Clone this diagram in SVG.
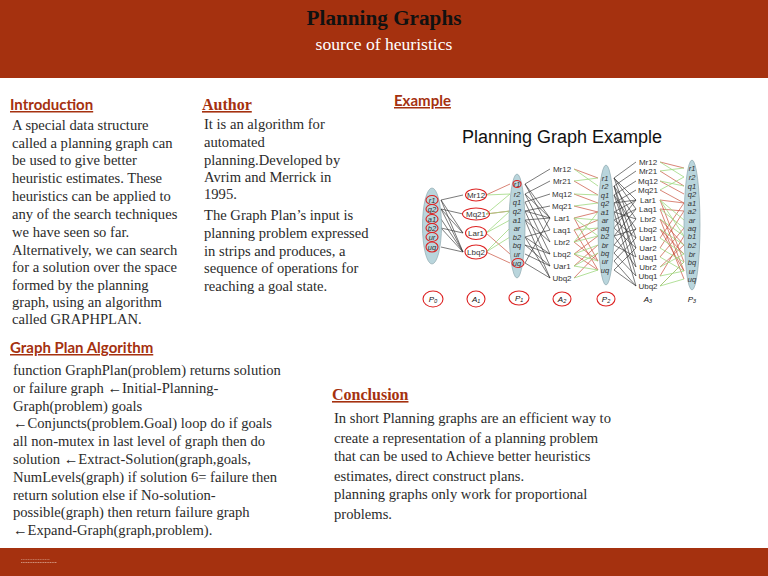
<svg xmlns="http://www.w3.org/2000/svg" width="768" height="576" viewBox="0 0 768 576">
<style>
.band{fill:#a5310f}
.b{font-family:"Liberation Serif",serif;font-size:14.6px;fill:#2b2b2b}
.h{font-family:Lato,"Open Sans",sans-serif;font-weight:700;font-size:15px;fill:#a5310f;text-decoration:underline}
.hs{font-family:"Liberation Serif",serif;font-weight:700;font-size:16px;fill:#a5310f;text-decoration:underline}
.a{font-family:"Liberation Sans",sans-serif;font-size:8px;fill:#333;text-anchor:middle}
.p{font-family:"Liberation Sans",sans-serif;font-size:7.5px;font-style:italic;fill:#333;text-anchor:middle}
.l{font-family:"Liberation Sans",sans-serif;font-size:8px;font-style:italic;fill:#111;text-anchor:middle}
.o{fill:#b9d5dc;stroke:#8fa9b0;stroke-width:.7}
.c{fill:none;stroke:#dd2222;stroke-width:1.1}
.k{fill:none;stroke:#333;stroke-width:.65}
.r{fill:none;stroke:#c9503c;stroke-width:.7}
.g{fill:none;stroke:#9fd880;stroke-width:.8}
</style>
<rect class="band" width="768" height="78"/>
<rect class="band" y="548" width="768" height="28"/>
<g id="title">
<text x="384" y="25" text-anchor="middle" font-family="Liberation Serif,serif" font-weight="700" font-size="21.2" fill="#111">Planning Graphs</text>
<text x="384" y="50" text-anchor="middle" font-family="Liberation Serif,serif" font-size="17.6" fill="#fff">source of heuristics</text>
</g>
<g id="footer" stroke="#e8c8b8" stroke-width=".7" stroke-dasharray="1.2 .5">
<line x1="21" y1="559.5" x2="50" y2="559.5" opacity=".6"/>
<line x1="21" y1="562.5" x2="57" y2="562.5" opacity=".9"/>
</g>
<g id="introduction">
<text class="h" x="10" y="110">Introduction</text>
<text class="b" x="12" y="130">A special data structure</text>
<text class="b" x="12" y="148">called a planning graph can</text>
<text class="b" x="12" y="165">be used to give better</text>
<text class="b" x="12" y="183">heuristic estimates. These</text>
<text class="b" x="12" y="201">heuristics can be applied to</text>
<text class="b" x="12" y="219">any of the search techniques</text>
<text class="b" x="12" y="237">we have seen so far.</text>
<text class="b" x="12" y="255">Alternatively, we can search</text>
<text class="b" x="12" y="272">for a solution over the space</text>
<text class="b" x="12" y="290">formed by the planning</text>
<text class="b" x="12" y="307">graph, using an algorithm</text>
<text class="b" x="12" y="324">called GRAPHPLAN.</text>
</g>
<g id="author">
<text class="hs" x="202" y="110">Author</text>
<text class="b" x="204" y="129">It is an algorithm for</text>
<text class="b" x="204" y="147">automated</text>
<text class="b" x="204" y="165">planning.Developed by</text>
<text class="b" x="204" y="182">Avrim and Merrick  in</text>
<text class="b" x="204" y="199">1995.</text>
<text class="b" x="204" y="220">The Graph Plan’s input is</text>
<text class="b" x="204" y="238">planning problem expressed</text>
<text class="b" x="204" y="256">in strips and produces, a</text>
<text class="b" x="204" y="273">sequence of operations for</text>
<text class="b" x="204" y="291">reaching a goal state.</text>
</g>
<g id="algorithm">
<text class="h" x="10" y="353">Graph Plan Algorithm</text>
<text class="b" x="13" y="375">function GraphPlan(problem) returns solution</text>
<text class="b" x="13" y="393">or failure graph ←Initial-Planning-</text>
<text class="b" x="13" y="411">Graph(problem) goals</text>
<text class="b" x="13" y="428">←Conjuncts(problem.Goal) loop do if goals</text>
<text class="b" x="13" y="446">all non-mutex in last level of graph then do</text>
<text class="b" x="13" y="464">solution ←Extract-Solution(graph,goals,</text>
<text class="b" x="13" y="482">NumLevels(graph) if solution 6= failure then</text>
<text class="b" x="13" y="500">return solution else if No-solution-</text>
<text class="b" x="13" y="517">possible(graph) then return failure graph</text>
<text class="b" x="13" y="535">←Expand-Graph(graph,problem).</text>
</g>
<g id="conclusion">
<text class="hs" x="332" y="400">Conclusion</text>
<text class="b" x="334" y="423">In short Planning graphs are an efficient way to</text>
<text class="b" x="334" y="443">create a representation of a planning problem</text>
<text class="b" x="334" y="461">that can be used to Achieve better heuristics</text>
<text class="b" x="334" y="481">estimates, direct construct plans.</text>
<text class="b" x="334" y="499">planning graphs only work for proportional</text>
<text class="b" x="334" y="519">problems.</text>
</g>
<text class="h" x="394" y="106">Example</text>
<text x="562" y="143" text-anchor="middle" font-family="Liberation Sans,sans-serif" font-size="18" fill="#111">Planning Graph Example</text>
<g id="connectors">
<path class="k" d="M441 200L463 195M441 200L463 233M441 200L463 252M441 209L463 214M441 209L463 233M441 209L463 252M441 219L463 252M441 228L463 233M441 228L463 252M441 247L463 252"/>
<path class="r" d="M486 195L510 184M486 214L510 211M486 233L510 254M486 252L510 263"/>
<path class="g" d="M486 195L510 194M486 214L510 211M486 214L510 194M486 233L510 220M486 233L510 211M486 252L510 237M486 252L510 228"/>
<path class="k" d="M525 184L550 169M525 184L550 218M525 184L550 230M525 194L550 181M525 194L550 242M525 194L550 218M525 202L550 194M525 202L550 254M525 211L550 206M525 211L550 218M525 211L550 266M525 220L550 218M525 220L550 242M525 220L550 278M525 237L550 230M525 237L550 254M525 237L550 278M525 245L550 266M525 245L550 254M525 254L550 266M525 263L550 278M525 263L550 218"/>
<path class="r" d="M574 169L598 178M574 181L598 195M574 194L598 203M574 206L598 212M574 218L598 212M574 218L598 261M574 230L598 220M574 230L598 270M574 242L598 228M574 242L598 261M574 254L598 236M574 254L598 270M574 266L598 245M574 278L598 253"/>
<path class="g" d="M574 169L598 186M574 181L598 178M574 194L598 195M574 206L598 203M574 218L598 220M574 218L598 236M574 230L598 228M574 242L598 236M574 242L598 212M574 254L598 245M574 254L598 261M574 266L598 253M574 266L598 270M574 278L598 270"/>
<path class="k" d="M614 178L636 162M614 178L636 200M614 178L636 209M614 178L636 238M614 186L636 171M614 186L636 219M614 186L636 248M614 186L636 267M614 195L636 181M614 195L636 229M614 195L636 257M614 203L636 190M614 203L636 200M614 203L636 276M614 212L636 200M614 212L636 219M614 212L636 286M614 220L636 209M614 220L636 238M614 228L636 200M614 228L636 248M614 236L636 209M614 236L636 229M614 236L636 267M614 245L636 219M614 245L636 257M614 253L636 229M614 253L636 276M614 261L636 238M614 261L636 286M614 270L636 248M614 270L636 286"/>
<path class="r" d="M660 162L684 168M660 171L684 186M660 181L684 194M660 190L684 203M660 200L684 203M660 200L684 262M660 209L684 211M660 209L684 271M660 219L684 245M660 219L684 279M660 229L684 254M660 229L684 271M660 238L684 203M660 248L684 211M660 257L684 228M660 267L684 245M660 276L684 236M660 286L684 262"/>
<path class="g" d="M660 162L684 177M660 171L684 168M660 181L684 186M660 190L684 177M660 200L684 220M660 200L684 236M660 209L684 228M660 219L684 236M660 229L684 245M660 238L684 254M660 248L684 262M660 257L684 271M660 267L684 254M660 276L684 271M660 286L684 279M660 286L684 262"/>
</g>
<g id="P0"><ellipse class="o" cx="432" cy="226" rx="9.5" ry="38"/>
<text class="p" x="432" y="203">r1</text><text class="p" x="432" y="212">q2</text><text class="p" x="432" y="222">a1</text><text class="p" x="432" y="231">b2</text><text class="p" x="432" y="240">ur</text><text class="p" x="432" y="250">uq</text>
<ellipse class="c" cx="432" cy="200" rx="6" ry="4.5"/><ellipse class="c" cx="432" cy="209" rx="6" ry="4.5"/><ellipse class="c" cx="432" cy="219" rx="6" ry="4.5"/><ellipse class="c" cx="432" cy="228" rx="6" ry="4.5"/><ellipse class="c" cx="432" cy="237" rx="6" ry="4.5"/><ellipse class="c" cx="432" cy="247" rx="6" ry="5"/></g>
<g id="A1">
<ellipse class="c" cx="476" cy="195" rx="10.5" ry="6"/><text class="a" x="476" y="198">Mr12</text>
<ellipse class="c" cx="476" cy="214" rx="13.5" ry="6"/><text class="a" x="476" y="217">Mq21</text>
<ellipse class="c" cx="476" cy="233" rx="10.5" ry="6.5"/><text class="a" x="476" y="236">Lar1</text>
<ellipse class="c" cx="476" cy="252" rx="11" ry="7"/><text class="a" x="476" y="255">Lbq2</text>
</g>
<g id="P1"><ellipse class="o" cx="517" cy="226" rx="8" ry="52"/>
<text class="p" x="517" y="187">r1</text><text class="p" x="517" y="197">r2</text><text class="p" x="517" y="205">q1</text><text class="p" x="517" y="214">q2</text><text class="p" x="517" y="223">a1</text><text class="p" x="517" y="231">ar</text><text class="p" x="517" y="240">b2</text><text class="p" x="517" y="248">bq</text><text class="p" x="517" y="257">ur</text><text class="p" x="517" y="266">uq</text>
<ellipse class="c" cx="517" cy="184" rx="4" ry="3.5"/><ellipse class="c" cx="518" cy="263" rx="6" ry="4.5"/></g>
<g id="A2">
<text class="a" x="562" y="172">Mr12</text><text class="a" x="562" y="184">Mr21</text><text class="a" x="562" y="197">Mq12</text><text class="a" x="562" y="209">Mq21</text><text class="a" x="562" y="221">Lar1</text><text class="a" x="562" y="233">Laq1</text><text class="a" x="562" y="245">Lbr2</text><text class="a" x="562" y="257">Lbq2</text><text class="a" x="562" y="269">Uar1</text><text class="a" x="562" y="281">Ubq2</text>
</g>
<g id="P2"><ellipse class="o" cx="606" cy="225" rx="8" ry="60"/>
<text class="p" x="605" y="181">r1</text><text class="p" x="605" y="189">r2</text><text class="p" x="605" y="198">q1</text><text class="p" x="605" y="206">q2</text><text class="p" x="605" y="215">a1</text><text class="p" x="605" y="223">ar</text><text class="p" x="605" y="231">aq</text><text class="p" x="605" y="239">b2</text><text class="p" x="605" y="248">br</text><text class="p" x="605" y="256">bq</text><text class="p" x="605" y="264">ur</text><text class="p" x="605" y="273">uq</text>
</g>
<g id="A3">
<text class="a" x="648" y="165">Mr12</text><text class="a" x="648" y="174">Mr21</text><text class="a" x="648" y="184">Mq12</text><text class="a" x="648" y="193">Mq21</text><text class="a" x="648" y="203">Lar1</text><text class="a" x="648" y="212">Laq1</text><text class="a" x="648" y="222">Lbr2</text><text class="a" x="648" y="232">Lbq2</text><text class="a" x="648" y="241">Uar1</text><text class="a" x="648" y="251">Uar2</text><text class="a" x="648" y="260">Uaq1</text><text class="a" x="648" y="270">Ubr2</text><text class="a" x="648" y="279">Ubq1</text><text class="a" x="648" y="289">Ubq2</text>
</g>
<g id="P3"><ellipse class="o" cx="692" cy="225" rx="8" ry="65"/>
<text class="p" x="692" y="171">r1</text><text class="p" x="692" y="180">r2</text><text class="p" x="692" y="189">q1</text><text class="p" x="692" y="197">q2</text><text class="p" x="692" y="206">a1</text><text class="p" x="692" y="214">a2</text><text class="p" x="692" y="223">ar</text><text class="p" x="692" y="231">aq</text><text class="p" x="692" y="239">b1</text><text class="p" x="692" y="248">b2</text><text class="p" x="692" y="257">br</text><text class="p" x="692" y="265">bq</text><text class="p" x="692" y="274">ur</text><text class="p" x="692" y="282">uq</text>
</g>
<g id="levels">
<ellipse class="c" cx="433" cy="299" rx="10" ry="8"/><text class="l" x="433" y="302">P₀</text>
<ellipse class="c" cx="476" cy="299" rx="9" ry="8"/><text class="l" x="476" y="302">A₁</text>
<ellipse class="c" cx="519" cy="298" rx="10" ry="7"/><text class="l" x="519" y="301">P₁</text>
<ellipse class="c" cx="562" cy="299" rx="9" ry="7"/><text class="l" x="562" y="302">A₂</text>
<ellipse class="c" cx="606" cy="299" rx="9" ry="7"/><text class="l" x="606" y="302">P₂</text>
<text class="l" x="648" y="302">A₃</text>
<text class="l" x="692" y="302">P₃</text>
</g>
</svg>
